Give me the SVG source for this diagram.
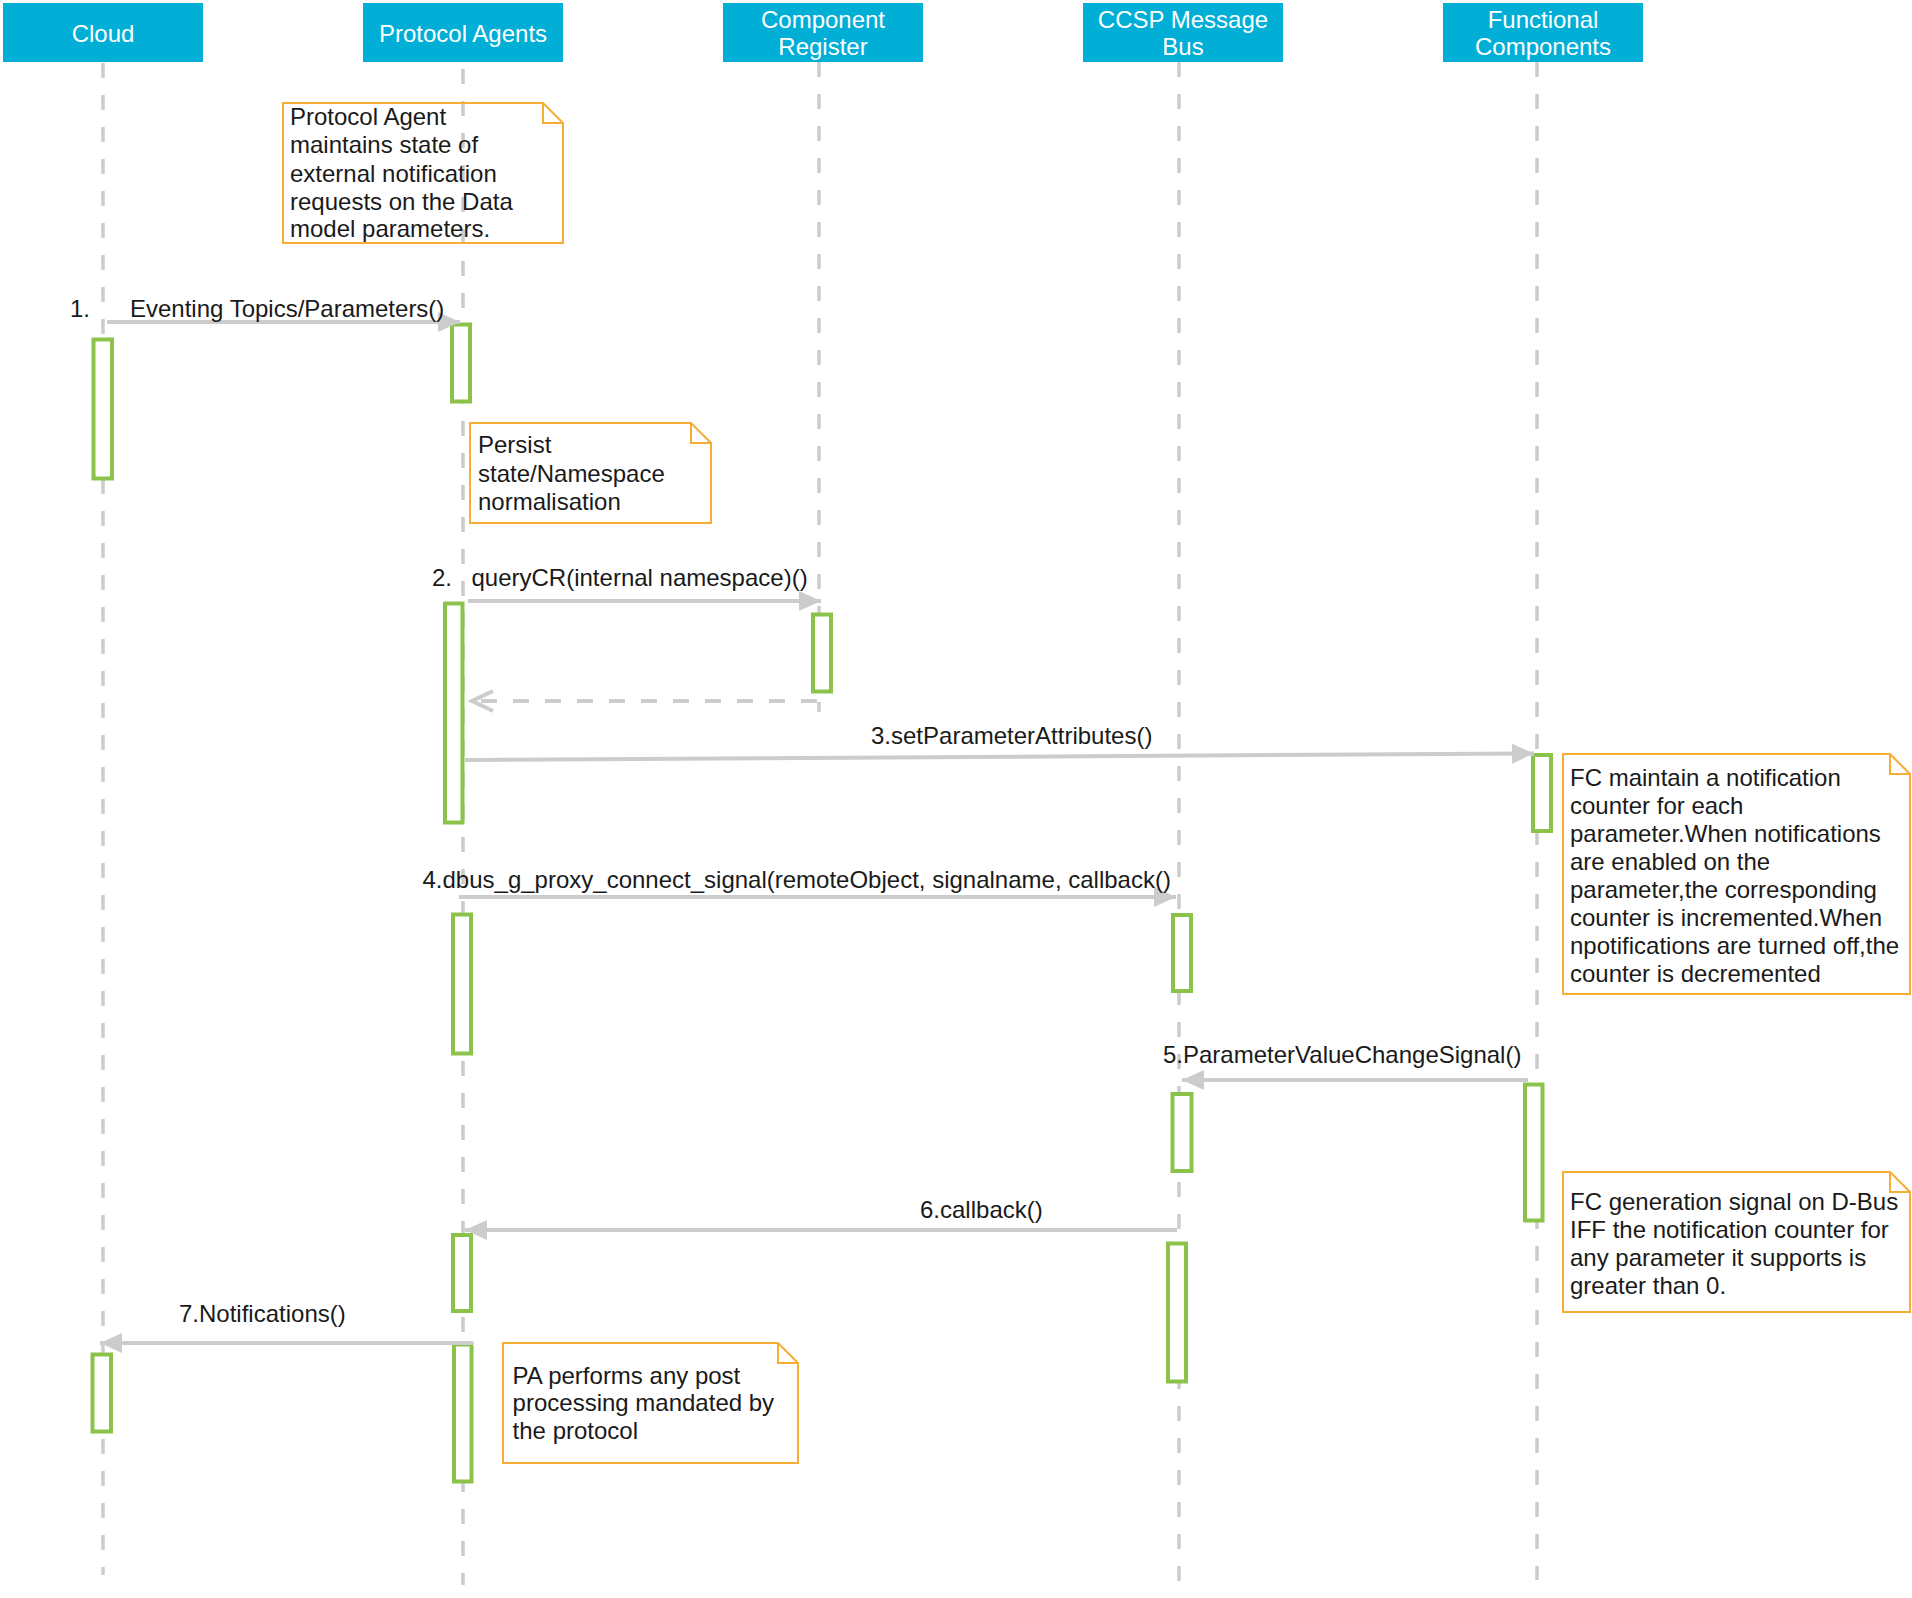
<svg xmlns="http://www.w3.org/2000/svg" width="1912" height="1598" viewBox="0 0 1912 1598">
<defs>
<style>
.hdr{fill:#00AED6;}
.htxt{font-family:"Liberation Sans",Arial,sans-serif;font-size:24px;fill:#ffffff;text-anchor:middle;}
.life{stroke:#CCCCCC;stroke-width:3.5;stroke-dasharray:15 17;fill:none;}
.act{fill:#ffffff;stroke:#8BC34A;stroke-width:4;}
.note{fill:none;stroke:#F5AD35;stroke-width:2;}
.txt{font-family:"Liberation Sans",Arial,sans-serif;font-size:24px;fill:#1a1a1a;}
.msg{stroke:#CCCCCC;stroke-width:4;fill:none;}
.ret{stroke:#CCCCCC;stroke-width:4;fill:none;stroke-dasharray:16 16;}
</style>
<marker id="ah" markerUnits="userSpaceOnUse" markerWidth="24" markerHeight="22" refX="22" refY="10" orient="auto">
<path d="M0,0 L22,10 L0,20 z" fill="#CCCCCC"/>
</marker>
<marker id="oh" markerUnits="userSpaceOnUse" markerWidth="28" markerHeight="26" refX="23" refY="12" orient="auto">
<path d="M2,2 L23,12 L2,22" fill="none" stroke="#CCCCCC" stroke-width="4"/>
</marker>
</defs>
<rect x="0" y="0" width="1912" height="1598" fill="#ffffff"/>

<g id="cloud">
<line class="life" x1="103" y1="63" x2="103" y2="1575"/>
<rect class="hdr" x="3" y="3" width="200" height="59"/>
<text class="htxt" x="103" y="41.5">Cloud</text>
</g>
<g id="protocol-agents">
<line class="life" x1="463" y1="69" x2="463" y2="1585"/>
<rect class="hdr" x="363" y="3" width="200" height="59"/>
<text class="htxt" x="463" y="41.5">Protocol Agents</text>
</g>
<g id="component-register">
<line class="life" x1="819" y1="62" x2="819" y2="712"/>
<rect class="hdr" x="723" y="3" width="200" height="59"/>
<text class="htxt" x="823" y="27.5">Component</text>
<text class="htxt" x="823" y="55">Register</text>
</g>
<g id="ccsp-message-bus">
<line class="life" x1="1179" y1="62" x2="1179" y2="1582"/>
<rect class="hdr" x="1083" y="3" width="200" height="59"/>
<text class="htxt" x="1183" y="27.5">CCSP Message</text>
<text class="htxt" x="1183" y="55">Bus</text>
</g>
<g id="functional-components">
<line class="life" x1="1537" y1="62" x2="1537" y2="1580"/>
<rect class="hdr" x="1443" y="3" width="200" height="59"/>
<text class="htxt" x="1543" y="27.5">Functional</text>
<text class="htxt" x="1543" y="55">Components</text>
</g>

<g id="note-pa-state">
<path class="note" d="M283,103 H543 L563,123 V243 H283 Z M543,103 V123 H563"/>
<text class="txt" x="290" y="125">Protocol Agent</text>
<text class="txt" x="290" y="153.3">maintains state of</text>
<text class="txt" x="290" y="181.7">external notification</text>
<text class="txt" x="290" y="210">requests on the Data</text>
<text class="txt" x="290" y="237.3">model parameters.</text>
</g>
<g id="note-persist">
<path class="note" d="M470,423 H691 L711,443 V523 H470 Z M691,423 V443 H711"/>
<text class="txt" x="478" y="453.3">Persist</text>
<text class="txt" x="478" y="481.7">state/Namespace</text>
<text class="txt" x="478" y="510">normalisation</text>
</g>
<g id="note-fc-counter">
<path class="note" d="M1563,754 H1890 L1910,774 V994 H1563 Z M1890,754 V774 H1910"/>
<text class="txt" x="1570" y="785.7">FC maintain a notification</text>
<text class="txt" x="1570" y="813.7">counter for each</text>
<text class="txt" x="1570" y="841.7">parameter.When notifications</text>
<text class="txt" x="1570" y="869.7">are enabled on the</text>
<text class="txt" x="1570" y="897.7">parameter,the corresponding</text>
<text class="txt" x="1570" y="925.7">counter is incremented.When</text>
<text class="txt" x="1570" y="953.7">npotifications are turned off,the</text>
<text class="txt" x="1570" y="981.7">counter is decremented</text>
</g>
<g id="note-fc-signal">
<path class="note" d="M1563,1172 H1890 L1910,1192 V1312 H1563 Z M1890,1172 V1192 H1910"/>
<text class="txt" x="1570" y="1210">FC generation signal on D-Bus</text>
<text class="txt" x="1570" y="1238">IFF the notification counter for</text>
<text class="txt" x="1570" y="1266">any parameter it supports is</text>
<text class="txt" x="1570" y="1294">greater than 0.</text>
</g>
<g id="note-pa-post">
<path class="note" d="M503,1343 H778 L798,1363 V1463 H503 Z M778,1343 V1363 H798"/>
<text class="txt" x="512.6" y="1383.7">PA performs any post</text>
<text class="txt" x="512.6" y="1411.4">processing mandated by</text>
<text class="txt" x="512.6" y="1438.8">the protocol</text>
</g>

<g id="activations">
<rect id="act-cloud-1" class="act" x="93.5" y="339.5" width="18.5" height="139"/>
<rect id="act-cloud-2" class="act" x="92.5" y="1354.5" width="18.5" height="77"/>
<rect id="act-pa-1" class="act" x="452" y="324.5" width="18" height="77"/>
<rect id="act-pa-2" class="act" x="445" y="603.5" width="17.5" height="219"/>
<rect id="act-pa-3" class="act" x="453" y="914.5" width="18" height="139"/>
<rect id="act-pa-4" class="act" x="453" y="1235" width="18" height="76"/>
<rect id="act-pa-5" class="act" x="454" y="1344.5" width="17.5" height="137"/>
<rect id="act-cr-1" class="act" x="813" y="614.5" width="18" height="77"/>
<rect id="act-ccsp-1" class="act" x="1173" y="915" width="18" height="76"/>
<rect id="act-ccsp-2" class="act" x="1172.5" y="1094" width="19" height="77"/>
<rect id="act-ccsp-3" class="act" x="1168" y="1243.5" width="18" height="138"/>
<rect id="act-fc-1" class="act" x="1533" y="755" width="18" height="76"/>
<rect id="act-fc-2" class="act" x="1525" y="1084.5" width="17.5" height="136"/>
</g>

<g id="connectors">
<line class="msg" x1="107" y1="322" x2="460" y2="322" marker-end="url(#ah)"/>
<text class="txt" x="70" y="317">1.</text>
<text class="txt" x="130" y="317">Eventing Topics/Parameters()</text>

<line class="msg" x1="468" y1="601" x2="821" y2="601" marker-end="url(#ah)"/>
<text class="txt" x="432" y="586">2.</text>
<text class="txt" x="471.5" y="586">queryCR(internal namespace)()</text>

<line class="ret" x1="817" y1="701" x2="472" y2="701" marker-end="url(#oh)"/>

<line class="msg" x1="465" y1="760" x2="1534" y2="753.5" marker-end="url(#ah)"/>
<text class="txt" x="871" y="744">3.setParameterAttributes()</text>

<line class="msg" x1="459" y1="897" x2="1176" y2="897" marker-end="url(#ah)"/>
<text class="txt" x="422.5" y="888">4.dbus_g_proxy_connect_signal(remoteObject, signalname, callback()</text>

<line class="msg" x1="1528" y1="1080" x2="1182" y2="1080" marker-end="url(#ah)"/>
<text class="txt" x="1163" y="1063">5.ParameterValueChangeSignal()</text>

<line class="msg" x1="1177" y1="1230" x2="465" y2="1230" marker-end="url(#ah)"/>
<text class="txt" x="920" y="1218">6.callback()</text>

<line class="msg" x1="473" y1="1343" x2="100" y2="1343" marker-end="url(#ah)"/>
<text class="txt" x="179" y="1322">7.Notifications()</text>
</g>
</svg>
